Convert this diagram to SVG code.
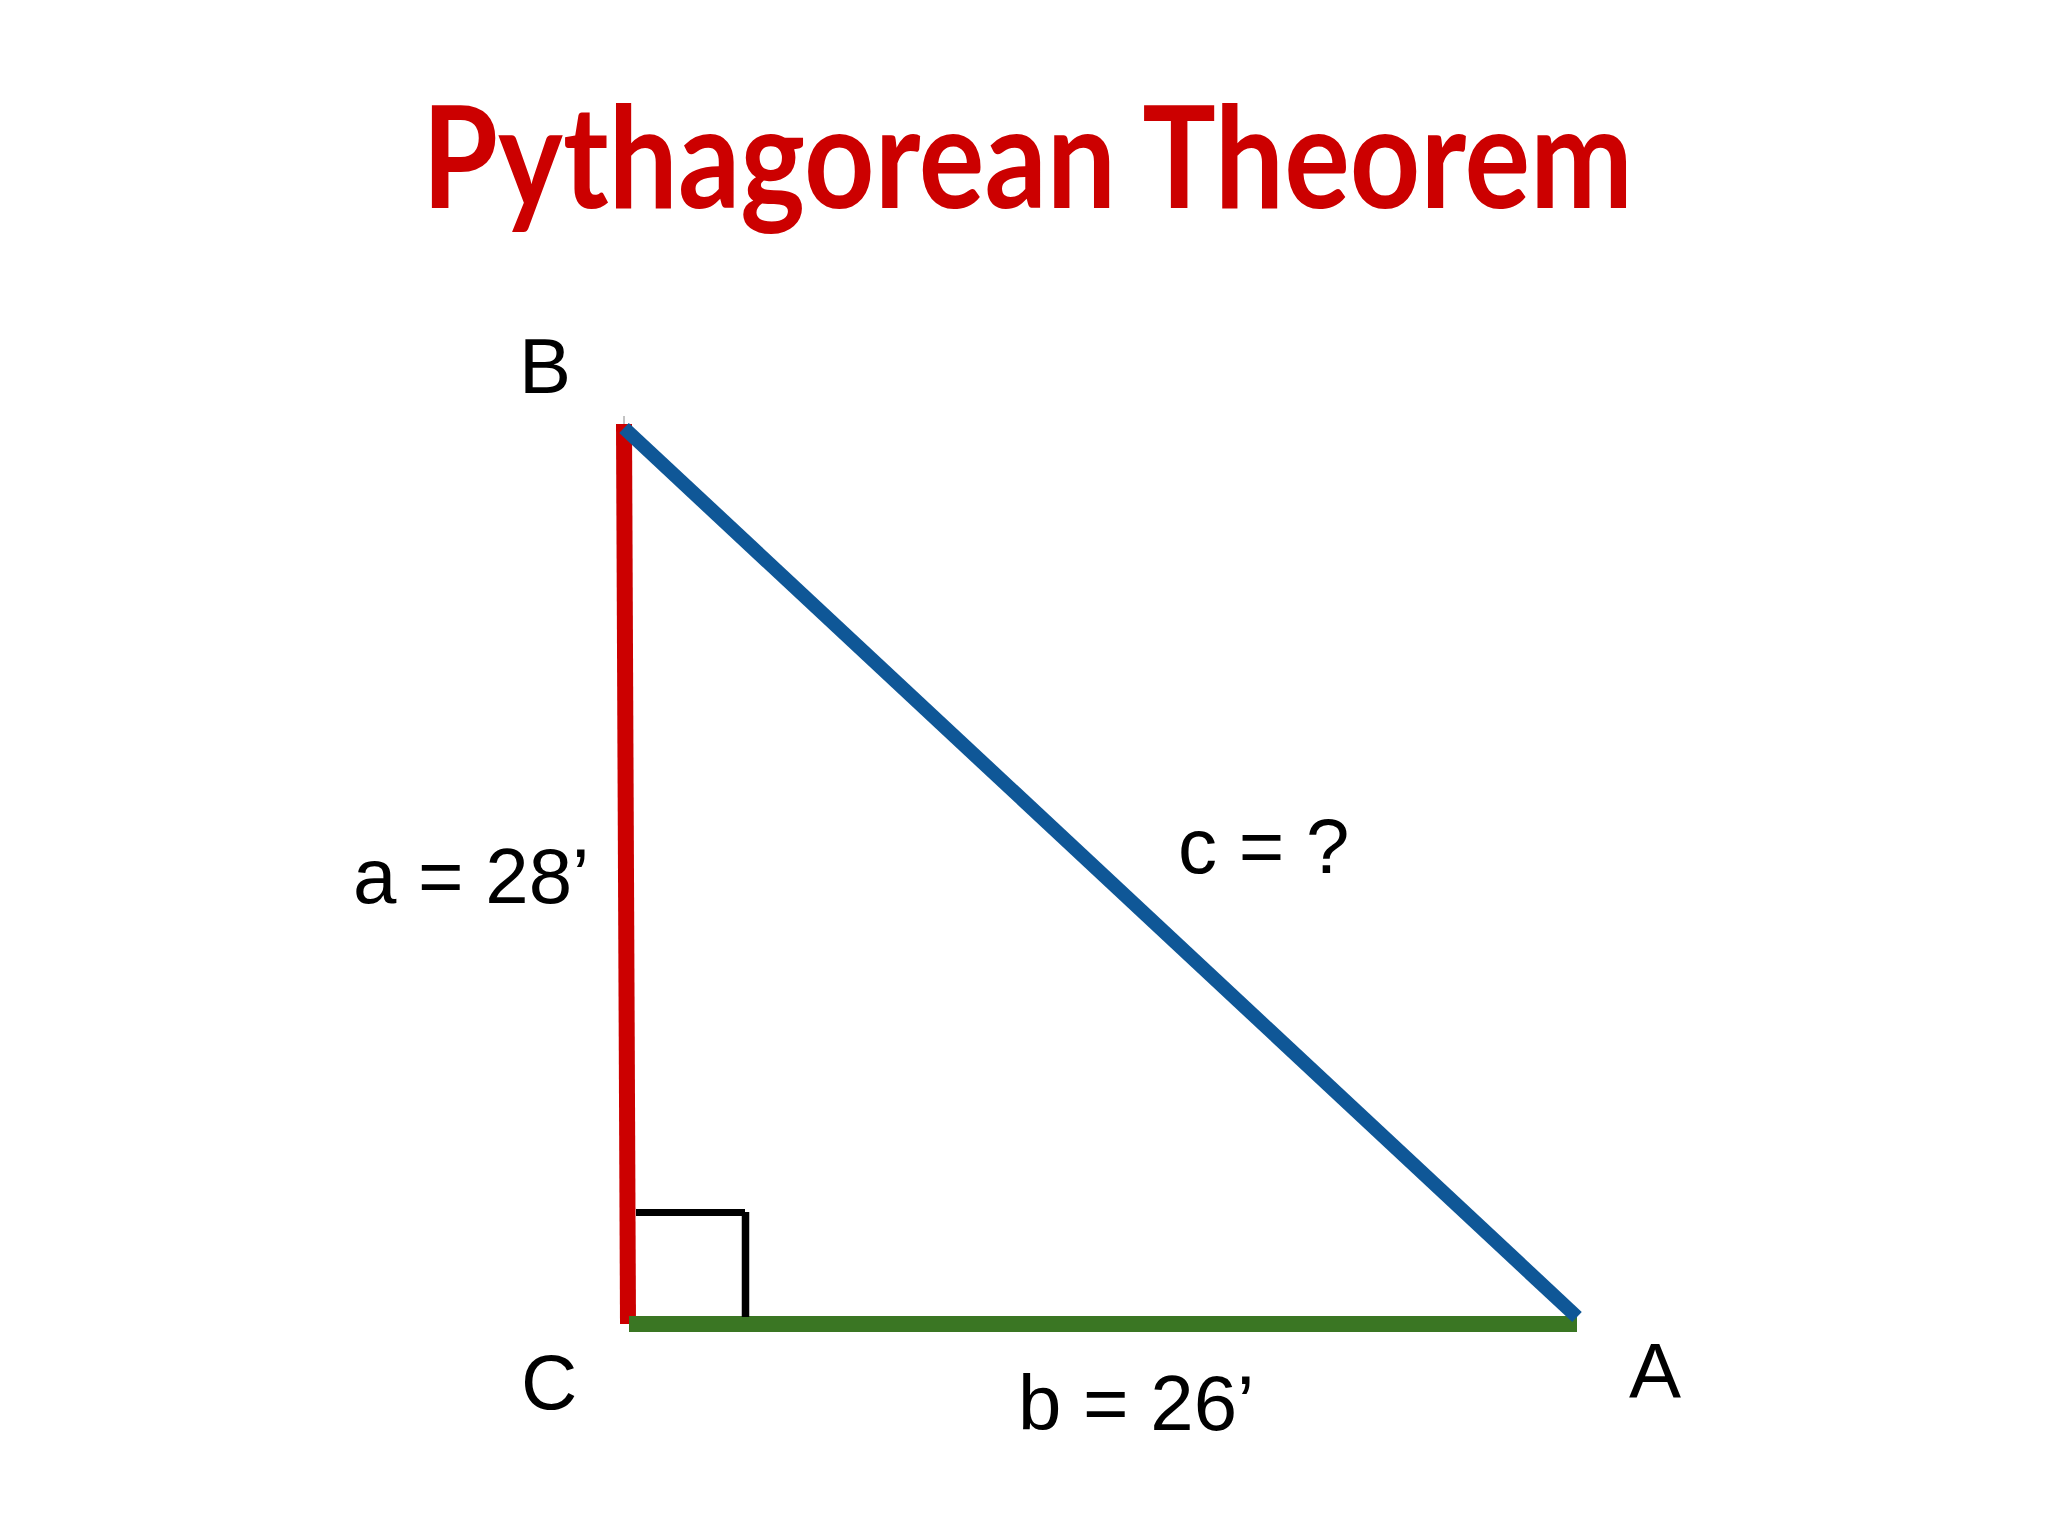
<svg xmlns="http://www.w3.org/2000/svg" width="2048" height="1536" viewBox="0 0 2048 1536">
  <style>
    .title { font-family: Lato, "DejaVu Sans", sans-serif; font-weight: 700; font-size: 142px; fill: #CC0000; }
    .lbl { font-family: "Liberation Sans", Arial, sans-serif; font-size: 78px; fill: #000000; }
    .side { stroke-linecap: butt; fill: none; }
  </style>
  <rect width="2048" height="1536" fill="#FFFFFF"/>
  <g id="title">
    <text class="title" x="422" y="208" textLength="1211" lengthAdjust="spacingAndGlyphs">Pythagorean Theorem</text>
  </g>
  <g id="connectors">
    <line x1="624" y1="416" x2="624" y2="424" stroke="#888888" stroke-width="1"/>
    <line id="side-a" class="side" x1="624" y1="424" x2="628" y2="1324" stroke="#CC0000" stroke-width="16"/>
    <line id="side-b" class="side" x1="629" y1="1324" x2="1577" y2="1324" stroke="#3A7623" stroke-width="16"/>
    <line id="side-c" class="side" x1="624" y1="428" x2="1577" y2="1317" stroke="#0F5797" stroke-width="14"/>
    <line x1="636" y1="1212.5" x2="745" y2="1212.5" stroke="#000000" stroke-width="7"/>
    <line x1="745.5" y1="1212" x2="745.5" y2="1317" stroke="#000000" stroke-width="7.5"/>
  </g>
  <g id="vertex-B"><text class="lbl" x="519" y="393">B</text></g>
  <g id="vertex-C"><text class="lbl" x="521" y="1409">C</text></g>
  <g id="vertex-A"><text class="lbl" x="1629" y="1398">A</text></g>
  <g id="label-a"><text class="lbl" x="353" y="903" font-size="77">a = 28’</text></g>
  <g id="label-c"><text class="lbl" x="1178" y="873" font-size="77">c = ?</text></g>
  <g id="label-b"><text class="lbl" x="1018" y="1430" font-size="77">b = 26’</text></g>
</svg>
